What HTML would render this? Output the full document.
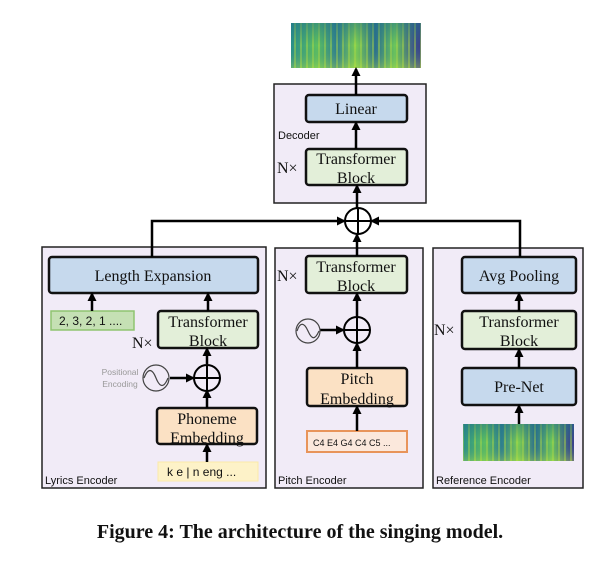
<!DOCTYPE html>
<html><head><meta charset="utf-8"><style>
body{margin:0;background:#fff;width:600px;height:561px;overflow:hidden}
svg text{font-family:"Liberation Serif",serif}
.s{font-family:"Liberation Sans",sans-serif}
</style></head><body>
<svg width="600" height="561" viewBox="0 0 600 561" xmlns="http://www.w3.org/2000/svg">
<defs>
<marker id="a" markerWidth="9" markerHeight="9" refX="7" refY="4.5" orient="auto" markerUnits="userSpaceOnUse"><path d="M0,0 L9,4.5 L0,9z" fill="#000"/></marker>
<linearGradient id="sp" x1="0" y1="0" x2="1" y2="0">
<stop offset="0" stop-color="#2a8f8a"/><stop offset="0.2" stop-color="#5cc060"/><stop offset="0.35" stop-color="#2e7f8f"/><stop offset="0.5" stop-color="#7ccf50"/><stop offset="0.65" stop-color="#2b6f8e"/><stop offset="0.8" stop-color="#6cc85a"/><stop offset="0.95" stop-color="#3b528b"/><stop offset="1" stop-color="#3b3f8a"/>
</linearGradient>
<linearGradient id="vg" x1="0" y1="0" x2="0" y2="1"><stop offset="0" stop-color="#1f6f8a" stop-opacity="0.5"/><stop offset="0.5" stop-color="#1f6f8a" stop-opacity="0"/><stop offset="1" stop-color="#c8e840" stop-opacity="0.35"/></linearGradient>
<pattern id="st" width="6" height="6" patternUnits="userSpaceOnUse"><rect width="2" height="6" fill="#b8e040" opacity="0.45"/></pattern>
</defs>
<g stroke="#222" stroke-width="1.5">
<rect x="274" y="84" width="152" height="119" fill="#f1ebf7"/>
<rect x="42" y="247" width="224" height="241" fill="#f1ebf7"/>
<rect x="275" y="248" width="148" height="240" fill="#f1ebf7"/>
<rect x="433" y="248" width="150" height="240" fill="#f1ebf7"/>
</g>
<rect x="291" y="23" width="130" height="45" fill="url(#sp)"/><rect x="291" y="23" width="130" height="45" fill="url(#st)"/><rect x="291" y="23" width="130" height="45" fill="url(#vg)"/>
<rect x="463" y="424" width="111" height="37" fill="url(#sp)"/><rect x="463" y="424" width="111" height="37" fill="url(#st)"/><rect x="463" y="424" width="111" height="37" fill="url(#vg)"/>
<g stroke="#111" stroke-width="2.5">
<rect x="306" y="95" width="101" height="27" rx="3" fill="#c6d9ed"/>
<rect x="306" y="149" width="101" height="36" rx="3" fill="#e3efd9"/>
<rect x="49" y="257" width="209" height="36" rx="3" fill="#c6d9ed"/>
<rect x="158" y="311" width="100" height="37" rx="3" fill="#e3efd9"/>
<rect x="157" y="408" width="100" height="36" rx="3" fill="#fbe1c4"/>
<rect x="306" y="256" width="101" height="37" rx="3" fill="#e3efd9"/>
<rect x="307" y="368" width="100" height="38" rx="3" fill="#fbe1c4"/>
<rect x="462" y="257" width="114" height="36" rx="3" fill="#c6d9ed"/>
<rect x="462" y="311" width="114" height="38" rx="3" fill="#e3efd9"/>
<rect x="462" y="368" width="114" height="37" rx="3" fill="#c6d9ed"/>
</g>
<rect x="51" y="311" width="83" height="19" fill="#c5e0b4" stroke="#8fc470" stroke-width="1.5"/>
<rect x="158" y="462" width="100" height="19" fill="#fdf2c8" stroke="#fbe9a8" stroke-width="1"/>
<rect x="307" y="431" width="100" height="21" fill="#fbe8dc" stroke="#e8945a" stroke-width="2"/>
<g stroke="#000" stroke-width="2.5" fill="none" marker-end="url(#a)">
<line x1="356" y1="95" x2="356" y2="69"/>
<line x1="356" y1="149" x2="356" y2="123"/>
<line x1="357" y1="208" x2="357" y2="186"/>
<line x1="357" y1="256" x2="357" y2="235"/>
<polyline points="152,257 152,221 344,221"/>
<polyline points="520,257 520,221 372,221"/>
<line x1="92" y1="311" x2="92" y2="294"/>
<line x1="208" y1="311" x2="208" y2="294"/>
<line x1="207" y1="364" x2="207" y2="349"/>
<line x1="207" y1="408" x2="207" y2="391"/>
<line x1="207" y1="462" x2="207" y2="445"/>
<line x1="170" y1="378" x2="193" y2="378"/>
<line x1="357" y1="317" x2="357" y2="294"/>
<line x1="357" y1="368" x2="357" y2="344"/>
<line x1="357" y1="431" x2="357" y2="407"/>
<line x1="320" y1="330" x2="343" y2="330"/>
<line x1="519" y1="311" x2="519" y2="294"/>
<line x1="519" y1="368" x2="519" y2="350"/>
<line x1="519" y1="424" x2="519" y2="406"/>
</g>
<g stroke="#000" stroke-width="2" fill="none">
<circle cx="358" cy="221" r="13" fill="#fff"/><path d="M345,221H371M358,208V234"/>
<circle cx="207" cy="378" r="13"/><path d="M194,378H220M207,365V391"/>
<circle cx="357" cy="330" r="13"/><path d="M344,330H370M357,317V343"/>
</g>
<g stroke="#444" stroke-width="1.2" fill="none">
<circle cx="156" cy="378" r="13"/><path d="M144,378 C148,368 152,368 156,378 S164,388 168,378"/>
<circle cx="308" cy="331" r="12"/><path d="M297,331 C300,322 304,322 308,331 S315,340 319,331"/>
</g>
<g font-size="16" text-anchor="middle" fill="#111">
<text x="356" y="114">Linear</text>
<text x="356" y="164">Transformer</text><text x="356" y="183">Block</text>
<text x="153" y="281">Length Expansion</text>
<text x="208" y="327">Transformer</text><text x="208" y="346">Block</text>
<text x="207" y="424">Phoneme</text><text x="207" y="443">Embedding</text>
<text x="356" y="272">Transformer</text><text x="356" y="291">Block</text>
<text x="357" y="384">Pitch</text><text x="357" y="404">Embedding</text>
<text x="519" y="281">Avg Pooling</text>
<text x="519" y="327">Transformer</text><text x="519" y="346">Block</text>
<text x="519" y="392">Pre-Net</text>
</g>
<g font-size="16" fill="#111"><text x="277" y="173">N×</text><text x="132" y="348">N×</text><text x="277" y="281">N×</text><text x="434" y="335">N×</text></g>
<g class="s" font-size="11" fill="#111">
<text x="278" y="139" class="s">Decoder</text>
<text x="45" y="484" class="s">Lyrics Encoder</text>
<text x="278" y="484" class="s">Pitch Encoder</text>
<text x="436" y="484" class="s">Reference Encoder</text>
<text x="59" y="325" class="s" font-size="12">2, 3, 2, 1 ....</text>
<text x="167" y="476" class="s" font-size="12">k e |  n eng ...</text>
<text x="313" y="446" class="s" font-size="9">C4 E4 G4 C4 C5 ...</text>
</g>
<g class="s" font-size="8.5" fill="#999" text-anchor="middle"><text x="120" y="375" class="s">Positional</text><text x="120" y="387" class="s">Encoding</text></g>
<text x="300" y="538" font-size="20" font-weight="bold" text-anchor="middle" fill="#111">Figure 4: The architecture of the singing model.</text>
</svg>
</body></html>
